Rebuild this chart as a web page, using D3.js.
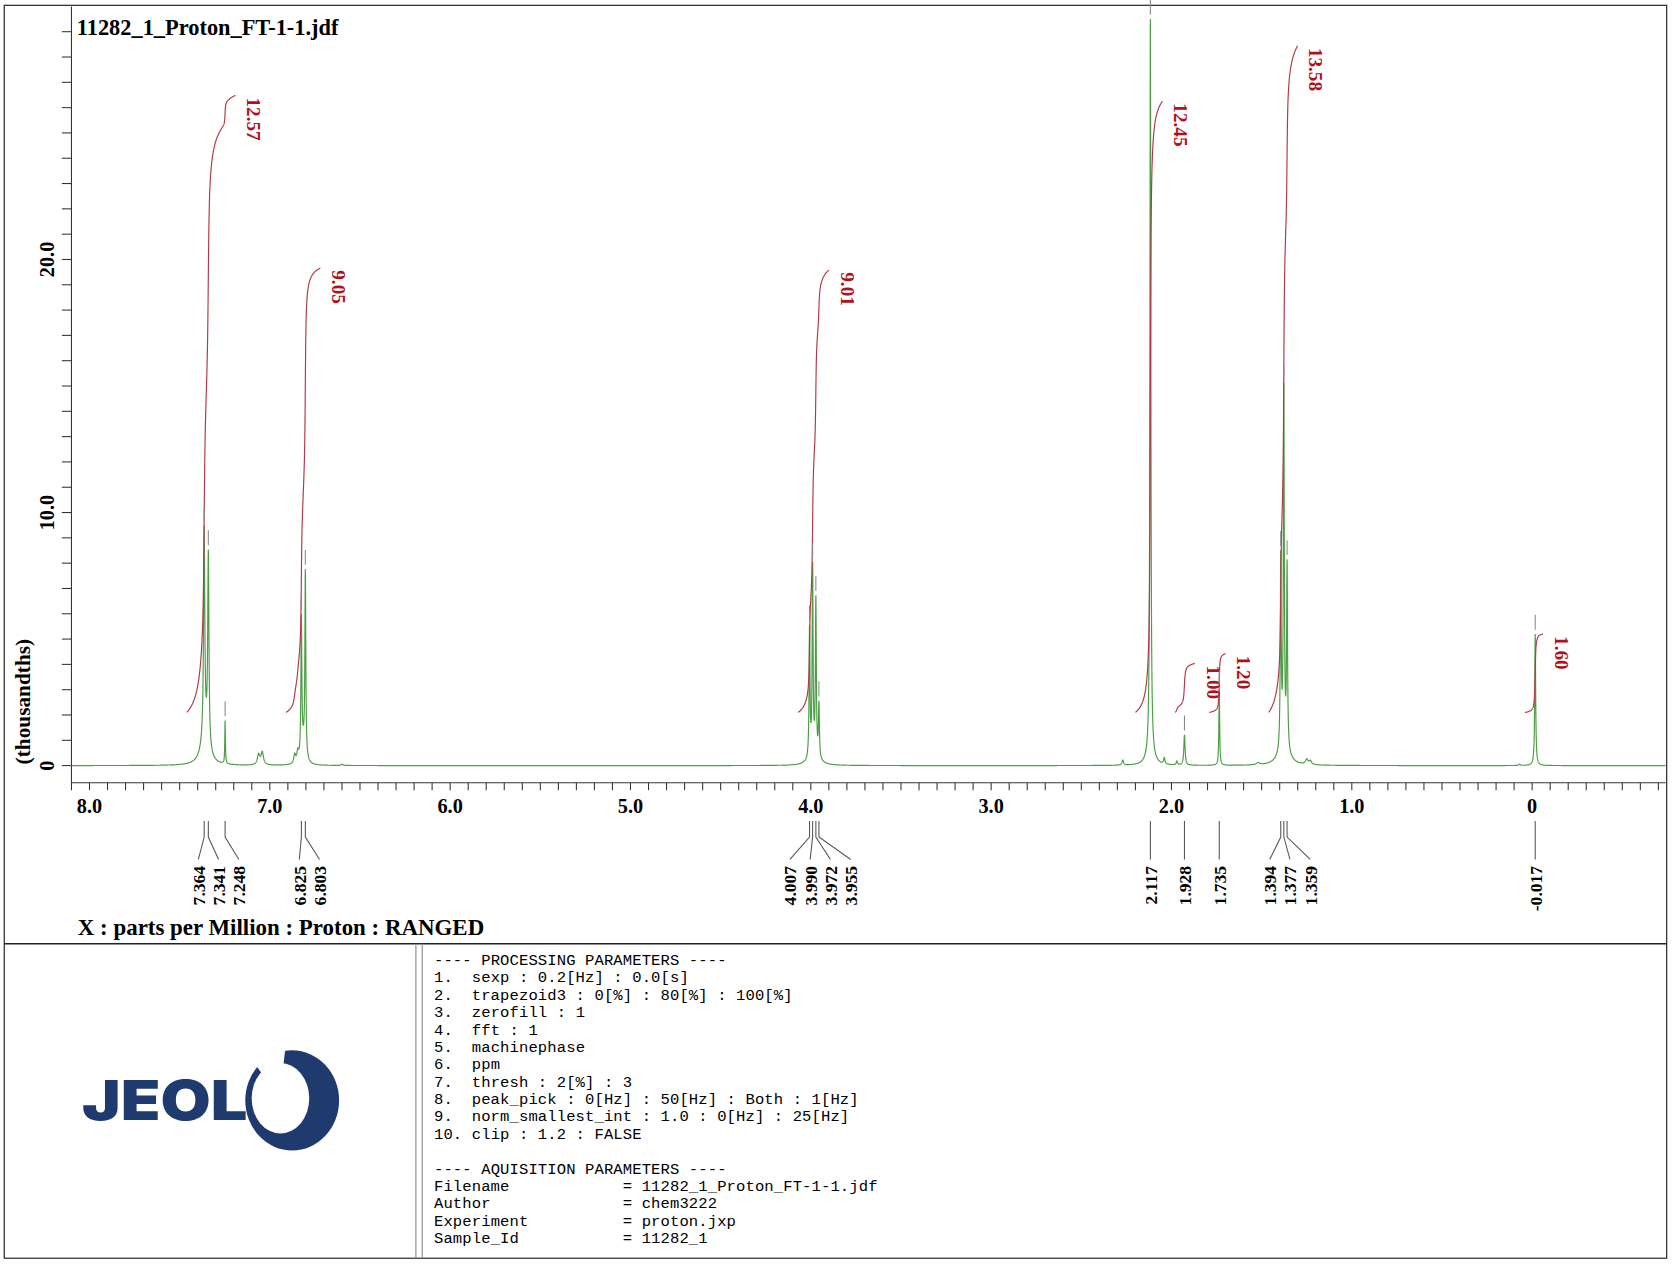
<!DOCTYPE html>
<html><head><meta charset="utf-8">
<script src="https://cdn.jsdelivr.net/npm/d3@7"></script>
<style>body{margin:0;background:#fff}</style>
</head><body><div id="chart"></div>
<script>
// peak list: [ppm, height (thousandths), half width (ppm)]
const peaks = [
  [7.364, 8.2, 0.004], [7.341, 7.6, 0.004], [7.36, 1.1, 0.025],
  [7.248, 1.7, 0.002],
  [7.062, 0.4, 0.008], [7.042, 0.5, 0.008],
  [6.862, 0.35, 0.006], [6.845, 0.4, 0.006],
  [6.825, 5.4, 0.003], [6.803, 7.3, 0.003], [6.815, 0.7, 0.012],
  [6.60, 0.05, 0.005],
  [4.007, 5.1, 0.003], [3.990, 7.4, 0.003], [3.972, 6.1, 0.003], [3.955, 2.1, 0.003], [3.98, 0.35, 0.03],
  [2.27, 0.2, 0.005], [2.117, 29.0, 0.003], [2.117, 0.5, 0.02],
  [2.04, 0.25, 0.004], [1.97, 0.15, 0.004],
  [1.928, 1.2, 0.004], [1.735, 3.0, 0.0025], [1.52, 0.08, 0.01],
  [1.394, 7.5, 0.003], [1.377, 14.0, 0.003], [1.359, 7.2, 0.003], [1.377, 0.7, 0.03],
  [1.25, 0.2, 0.008], [1.23, 0.15, 0.008], [0.07, 0.05, 0.005],
  [-0.017, 5.2, 0.003]
];
const pickedPeaks = [7.364, 7.341, 7.248, 6.825, 6.803, 4.007, 3.990, 3.972, 3.955,
  2.117, 1.928, 1.735, 1.394, 1.377, 1.359, -0.017];
// integral regions: [from ppm, to ppm, value]
const integrals = [
  [7.46, 7.19, 12.57], [6.91, 6.72, 9.05], [4.07, 3.90, 9.01], [2.20, 2.05, 12.45],
  [1.98, 1.87, 1.00], [1.79, 1.70, 1.20], [1.46, 1.30, 13.58], [0.04, -0.06, 1.60]
];
const xTicks = [8, 7, 6, 5, 4, 3, 2, 1, 0];
const yTicks = [0, 10, 20];
const title = "11282_1_Proton_FT-1-1.jdf";
const paramLines = [
  "---- PROCESSING PARAMETERS ----",
  "1.  sexp : 0.2[Hz] : 0.0[s]",
  "2.  trapezoid3 : 0[%] : 80[%] : 100[%]",
  "3.  zerofill : 1",
  "4.  fft : 1",
  "5.  machinephase",
  "6.  ppm",
  "7.  thresh : 2[%] : 3",
  "8.  peak_pick : 0[Hz] : 50[Hz] : Both : 1[Hz]",
  "9.  norm_smallest_int : 1.0 : 0[Hz] : 25[Hz]",
  "10. clip : 1.2 : FALSE",
  "",
  "---- AQUISITION PARAMETERS ----",
  "Filename            = 11282_1_Proton_FT-1-1.jdf",
  "Author              = chem3222",
  "Experiment          = proton.jxp",
  "Sample_Id           = 11282_1"
];

const W = 1568, H = 1185.4;
const svg = d3.select("#chart").append("svg")
  .attr("width", 1672).attr("height", 1264).attr("viewBox", `0 0 ${W} ${H}`);
const serif = "'Liberation Serif','Times New Roman',serif";

const x = d3.scaleLinear().domain([8.1, -0.74]).range([67, 1562]);
const y = d3.scaleLinear().domain([0, 30]).range([718, 6]);

const spec = ppm => d3.sum(peaks, p => p[1] / (1 + ((ppm - p[0]) / p[2]) ** 2));

// frame
svg.append("rect").attr("x", 4).attr("y", 5).attr("width", 1559).attr("height", 1175)
  .attr("fill", "none").attr("stroke", "#333").attr("stroke-width", 1.2);
svg.append("line").attr("x1", 4).attr("x2", 1563).attr("y1", 885).attr("y2", 885).attr("stroke", "#222").attr("stroke-width", 1.5);
[390, 396].forEach(v => svg.append("line").attr("x1", v).attr("x2", v).attr("y1", 885).attr("y2", 1180).attr("stroke", "#999").attr("stroke-width", 1.2));

// axes
const xAxis = svg.append("g").attr("transform", "translate(0,734)");
xAxis.append("line").attr("x1", 67).attr("x2", 1562).attr("stroke", "#333");
xAxis.selectAll("line.t").data(d3.range(-7, 82).map(i => i / 10)).join("line").attr("class", "t")
  .attr("x1", d => x(d)).attr("x2", d => x(d)).attr("y2", 7).attr("stroke", "#333");
xAxis.selectAll("text").data(xTicks).join("text")
  .attr("x", d => x(d)).attr("y", 28).attr("text-anchor", "middle")
  .attr("font-family", serif).attr("font-weight", "bold").attr("font-size", 19)
  .text(d => d === 0 ? "0" : d.toFixed(1));

const yAxis = svg.append("g");
yAxis.append("line").attr("x1", 67).attr("x2", 67).attr("y1", 6).attr("y2", 734).attr("stroke", "#333");
yAxis.selectAll("line.t").data(d3.range(0, 30)).join("line").attr("class", "t")
  .attr("x1", 58).attr("x2", 67).attr("y1", d => y(d)).attr("y2", d => y(d)).attr("stroke", "#333");
yAxis.selectAll("text").data(yTicks).join("text")
  .attr("transform", d => `translate(51,${y(d)}) rotate(-90)`).attr("text-anchor", "middle")
  .attr("font-family", serif).attr("font-weight", "bold").attr("font-size", 19)
  .text(d => d === 0 ? "0" : d.toFixed(1));
svg.append("text").attr("transform", "translate(28,658) rotate(-90)").attr("text-anchor", "middle")
  .attr("font-family", serif).attr("font-weight", "bold").attr("font-size", 20).text("(thousandths)");

svg.append("text").attr("x", 72).attr("y", 33).attr("font-family", serif).attr("font-weight", "bold")
  .attr("font-size", 21).text(title);
svg.append("text").attr("x", 73).attr("y", 877).attr("font-family", serif).attr("font-weight", "bold")
  .attr("font-size", 21.5).text("X : parts per Million : Proton : RANGED");

// spectrum
const grid = d3.range(8.1, -0.74, -0.0005);
const line = d3.line().x(d => x(d)).y(d => y(spec(d)));
svg.append("path").attr("d", line(grid)).attr("fill", "none").attr("stroke", "#4c9e45").attr("stroke-width", 1.1);

// integrals
const base = 2.1, unit = 1.94;
integrals.forEach(([a, b, v]) => {
  const pts = d3.range(a, b, -0.0005);
  const vals = pts.map(spec);
  const cum = d3.cumsum(vals);
  const tot = cum[cum.length - 1];
  const data = pts.map((p, i) => [p, base + unit * v * cum[i] / tot]);
  svg.append("path").attr("d", d3.line().x(d => x(d[0])).y(d => y(d[1]))(data))
    .attr("fill", "none").attr("stroke", "#b23a48").attr("stroke-width", 1.1);
  svg.append("text").attr("transform", `translate(${x(b) + 11},${y(base + unit * v) + 2}) rotate(90)`)
    .attr("font-family", serif).attr("font-weight", "bold").attr("font-size", 18)
    .attr("fill", "#b0121b").text(v.toFixed(2));
});

// peak picks: marks above peaks and labels below axis
const picks = pickedPeaks.map(p => ({p, px: x(p)}));
const sp = 19;
let groups = [];
picks.forEach(d => {
  const g = groups[groups.length - 1];
  if (g && d.px - g[g.length - 1].px < sp * 1.3) g.push(d); else groups.push([d]);
});
groups.forEach(g => {
  const c = d3.mean(g, d => d.px) + (g.length > 1 ? sp * 0.3 : 0);
  g.forEach((d, i) => d.lx = c + (i - (g.length - 1) / 2) * sp);
});
picks.forEach(d => {
  const top = y(spec(d.p));
  svg.append("line").attr("x1", d.px).attr("x2", d.px).attr("y1", top - 4).attr("y2", top - 18)
    .attr("stroke", "#888");
  svg.append("polyline").attr("points", `${d.px},770 ${d.px},785 ${d.lx},806`)
    .attr("fill", "none").attr("stroke", "#555");
  svg.append("text").attr("transform", `translate(${d.lx + 6},812) rotate(-90)`).attr("text-anchor", "end")
    .attr("font-family", serif).attr("font-weight", "bold").attr("font-size", 16.5)
    .text(d.p.toFixed(3));
});

// parameter text
svg.append("g").selectAll("text").data(paramLines).join("text")
  .attr("x", 407).attr("y", (d, i) => 905 + i * 16.3)
  .attr("font-family", "'Liberation Mono','Courier New',monospace").attr("font-size", 14.6)
  .attr("textLength", d => d.length * 8.85).attr("lengthAdjust", "spacing")
  .attr("xml:space", "preserve").style("white-space", "pre").text(d => d);

// JEOL logo
const navy = "#1f3a6e";
svg.append("text").attr("x", 77).attr("y", 1050).attr("font-family", "Inter, 'Open Sans', sans-serif")
  .attr("font-weight", 900).attr("font-size", 52).attr("fill", navy)
  .attr("textLength", 155).attr("lengthAdjust", "spacingAndGlyphs").text("JEOL");
svg.append("ellipse").attr("cx", 274).attr("cy", 1032).attr("rx", 44).attr("ry", 47).attr("fill", navy);
svg.append("ellipse").attr("cx", 263).attr("cy", 1030).attr("rx", 27).attr("ry", 33).attr("fill", "#fff");
svg.append("polygon").attr("points", "262,1030 228,982 268,980").attr("fill", "#fff");
</script></body></html>
